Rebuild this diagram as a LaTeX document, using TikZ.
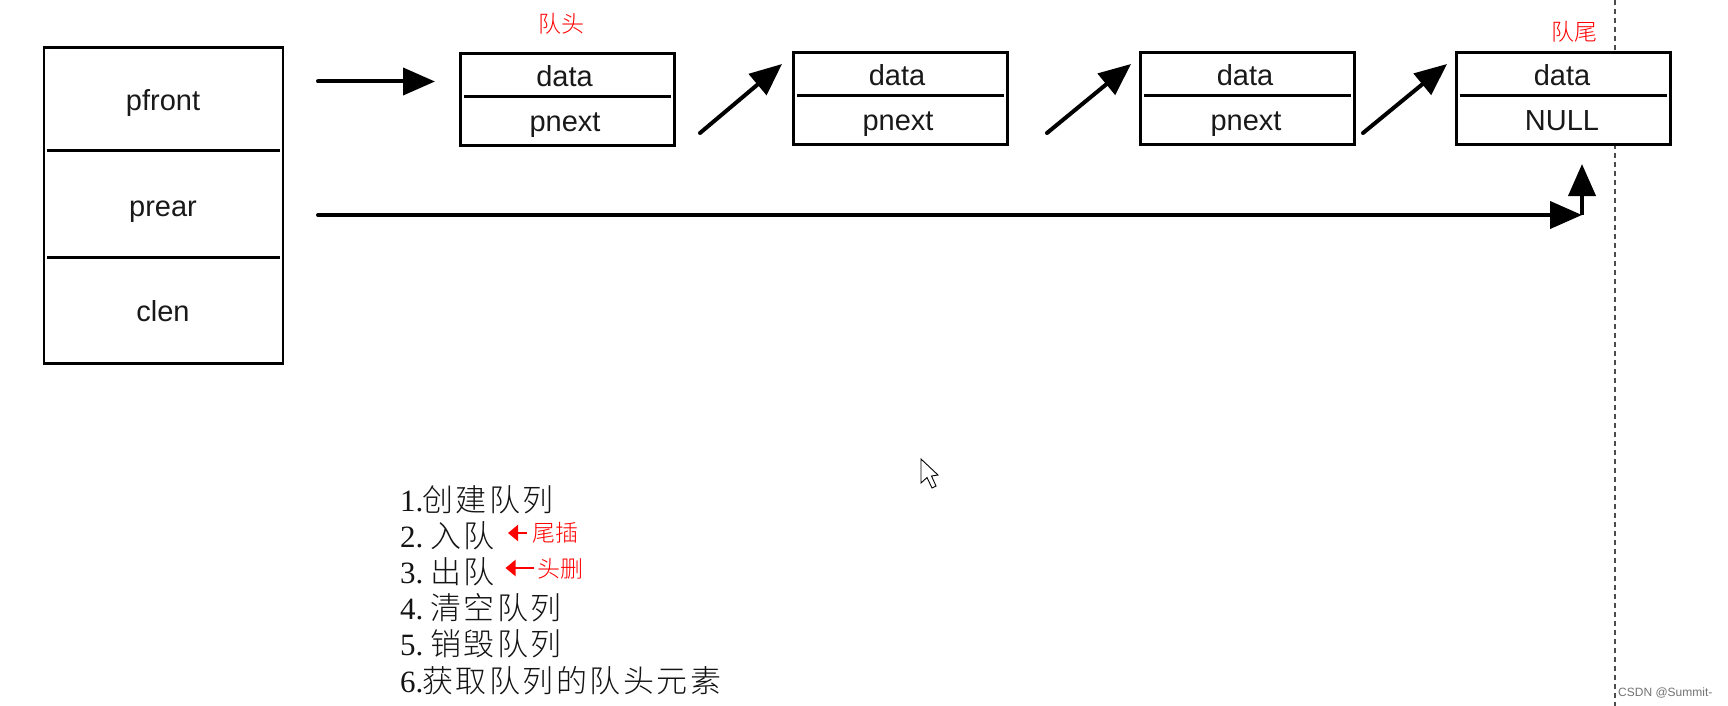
\documentclass[tikz,border=0pt]{standalone}
\usepackage{fontspec}
\usetikzlibrary{arrows.meta}
\setmainfont{Liberation Sans}
\newfontfamily\serifnum{Liberation Serif}
\newfontfamily\cjkthin[LetterSpace=8]{Noto Sans CJK SC Light}
\newfontfamily\cjkred{Noto Sans CJK SC Light}
\tikzset{
  outer/.style={draw=black,fill=white,line width=2.8pt,inner sep=0pt,rectangle},
  divider/.style={line width=2.8pt,black},
  celltext/.style={anchor=base,inner sep=0pt,font=\fontsize{29}{31}\selectfont,text=black!90},
  bigarrow/.style={line width=4pt,black,line cap=round,-{Triangle[length=32pt,width=27pt]}},
  redarrow/.style={line width=2.2pt,red,{Triangle[length=10pt,width=16pt]}-},
  redlabel/.style={inner sep=0pt,text=red,font=\cjkred\fontsize{23}{25}\selectfont},
  listline/.style={anchor=base west,inner sep=0pt,font=\fontsize{31}{33}\selectfont,text=black!92},
}
\newcommand{\qline}[3]{\makebox[#1][l]{\serifnum #2}{\cjkthin #3}}
\begin{document}
\begin{tikzpicture}[x=1pt,y=-1pt]
\useasboundingbox (0,0) rectangle (1728,706);
\fill[white] (0,0) rectangle (1728,706);
% dashed margin
\coordinate (dashTop) at (1614.5,0);
\coordinate (dashBot) at (1614.5,706);
\draw[line width=2pt,black!70,dash pattern=on 5pt off 4pt] (dashTop) -- (dashBot);
% left structure
\node[outer,minimum width=239pt,minimum height=316pt] (head) at (163.5,205.5) {};
\draw[divider] ([shift={(4.5,104.5)}]head.north west) coordinate (d1a) -- ([shift={(-4.5,104.5)}]head.north east) coordinate (d1b);
\draw[divider] ([shift={(4.5,211.5)}]head.north west) coordinate (d2a) -- ([shift={(-4.5,211.5)}]head.north east) coordinate (d2b);
\node[celltext] (pfront) at (163,111) {pfront};
\node[celltext] (prear) at (163,216) {prear};
\node[celltext] (clen) at (163,321) {clen};
% queue nodes
\foreach \nm/\cx/\cy in {n1/567.5/99.5,n2/900.5/98.5,n3/1247.5/98.5,n4/1563.5/98.5}{
  \node[outer,minimum width=213.5pt,minimum height=92pt] (\nm) at (\cx,\cy) {};
  \draw[divider] ([shift={(4.5,44.5)}]\nm.north west) coordinate (\nm a) -- ([shift={(-4.5,44.5)}]\nm.north east) coordinate (\nm b);
}
\node[celltext] (n1data) at (564.5,87) {data};
\node[celltext] (n1next) at (565,131.5) {pnext};
\node[celltext] (n2data) at (897,86) {data};
\node[celltext] (n2next) at (898,130.5) {pnext};
\node[celltext] (n3data) at (1245,86) {data};
\node[celltext] (n3next) at (1246,130.5) {pnext};
\node[celltext] (n4data) at (1562,86) {data};
\node[celltext] (n4next) at (1562,130.5) {NULL};
% arrows
\coordinate (a0s) at (318,81.5); \coordinate (a0e) at (435,81.5);
\draw[bigarrow] (a0s) -- (a0e);
\coordinate (a1s) at (700,133); \coordinate (a1e) at (782,64);
\draw[bigarrow] (a1s) -- (a1e);
\coordinate (a2s) at (1047,133); \coordinate (a2e) at (1131,64);
\draw[bigarrow] (a2s) -- (a2e);
\coordinate (a3s) at (1363,133); \coordinate (a3e) at (1447,64);
\draw[bigarrow] (a3s) -- (a3e);
\coordinate (a4s) at (318,215); \coordinate (a4e) at (1582,215); \coordinate (a5e) at (1582,164);
\draw[bigarrow] (a4s) -- (a4e);
\draw[bigarrow,line cap=butt] (a4e) -- (a5e);
% red labels
\node[redlabel] (lhead) at (561,24) {队头};
\node[redlabel] (ltail) at (1574,32) {队尾};
% list
\node[listline] (l1) at (400,511) {\qline{22pt}{1.}{创建队列}};
\node[listline] (l2) at (400,547) {\qline{30pt}{2.}{入队}};
\node[listline] (l3) at (400,583) {\qline{30pt}{3.}{出队}};
\node[listline] (l4) at (400,619) {\qline{30pt}{4.}{清空队列}};
\node[listline] (l5) at (400,655) {\qline{30pt}{5.}{销毁队列}};
\node[listline] (l6) at (400,692) {\qline{22pt}{6.}{获取队列的队头元素}};
\node[redlabel,anchor=west] (tailins) at (532,533) {尾插};
\node[redlabel,anchor=west] (headdel) at (537,569) {头删};
\coordinate (r1t) at (508,533); \coordinate (r1e) at (526.5,533);
\draw[redarrow] (r1t) -- (r1e);
\coordinate (r2t) at (505.5,568); \coordinate (r2e) at (534,568);
\draw[redarrow] (r2t) -- (r2e);
% mouse cursor
\draw[black,fill=white,line width=0.9pt,line join=miter]
  (921,459) -- (921,483) -- (927,477.5) -- (932,488) -- (936,486) -- (931.5,476) -- (938,475) -- cycle;
% watermark
\node[anchor=base west,inner sep=0pt,text=black!55,font=\fontsize{12}{14}\selectfont] (wm) at (1618,696) {CSDN @Summit-};
\end{tikzpicture}
\end{document}
